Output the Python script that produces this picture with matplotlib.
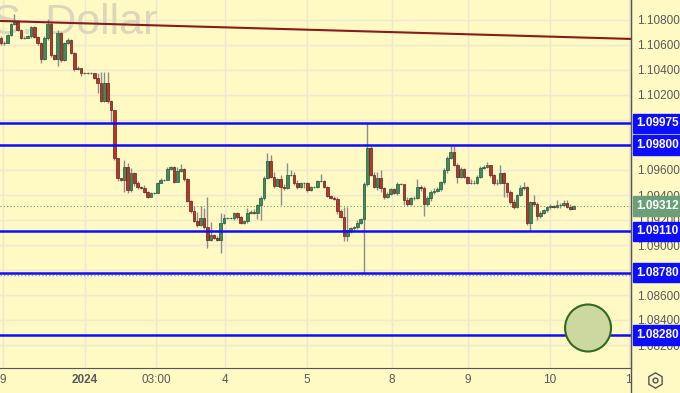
import matplotlib
matplotlib.use("Agg")
import matplotlib.pyplot as plt
import matplotlib.transforms as mtransforms
from matplotlib.patches import Ellipse
from matplotlib.lines import Line2D
import numpy as np

plt.rcParams["font.family"] = ["Liberation Sans", "DejaVu Sans"]

# candle data (hourly-ish bars), open of each bar = previous close
first_open = 1.10656
closes = [
    1.10616, 1.10616, 1.10680, 1.10768, 1.10784, 1.10720, 1.10656, 1.10656, 1.10672, 1.10744,
    1.10664, 1.10616, 1.10488, 1.10656, 1.10768, 1.10520, 1.10488, 1.10696, 1.10480, 1.10616,
    1.10640, 1.10536, 1.10408, 1.10416, 1.10376, 1.10376, 1.10376, 1.10376, 1.10336, 1.10296,
    1.10152, 1.10296, 1.10152, 1.10080, 1.09696, 1.09536, 1.09520, 1.09624, 1.09440, 1.09576,
    1.09496, 1.09464, 1.09456, 1.09424, 1.09384, 1.09416, 1.09416, 1.09496, 1.09520, 1.09520,
    1.09608, 1.09624, 1.09504, 1.09592, 1.09608, 1.09528, 1.09352, 1.09272, 1.09192, 1.09160,
    1.09216, 1.09144, 1.09040, 1.09080, 1.09056, 1.09040, 1.09176, 1.09216, 1.09216, 1.09216,
    1.09256, 1.09224, 1.09176, 1.09192, 1.09256, 1.09264, 1.09256, 1.09320, 1.09376, 1.09536,
    1.09672, 1.09544, 1.09472, 1.09528, 1.09464, 1.09456, 1.09560, 1.09560, 1.09496, 1.09464,
    1.09496, 1.09496, 1.09440, 1.09464, 1.09464, 1.09512, 1.09512, 1.09464, 1.09392, 1.09376,
    1.09368, 1.09272, 1.09224, 1.09072, 1.09120, 1.09136, 1.09144, 1.09176, 1.09208, 1.09488,
    1.09776, 1.09560, 1.09464, 1.09536, 1.09456, 1.09384, 1.09408, 1.09448, 1.09416, 1.09488,
    1.09488, 1.09360, 1.09328, 1.09376, 1.09376, 1.09464, 1.09456, 1.09328, 1.09376, 1.09424,
    1.09432, 1.09448, 1.09504, 1.09600, 1.09696, 1.09744, 1.09640, 1.09544, 1.09608, 1.09544,
    1.09496, 1.09496, 1.09496, 1.09544, 1.09616, 1.09624, 1.09640, 1.09560, 1.09496, 1.09496,
    1.09576, 1.09496, 1.09424, 1.09344, 1.09304, 1.09400, 1.09456, 1.09464, 1.09176, 1.09344,
    1.09328, 1.09232, 1.09256, 1.09280, 1.09304, 1.09312, 1.09304, 1.09320, 1.09320, 1.09336,
    1.09304, 1.09288, 1.09312,
]
highs = [
    1.10672, 1.10632, 1.10688, 1.10776, 1.10848, 1.10800, 1.10728, 1.10672, 1.10680, 1.10752,
    1.10752, 1.10672, 1.10624, 1.10672, 1.10808, 1.10784, 1.10528, 1.10720, 1.10704, 1.10624,
    1.10656, 1.10648, 1.10544, 1.10432, 1.10416, 1.10384, 1.10384, 1.10384, 1.10376, 1.10376,
    1.10384, 1.10384, 1.10384, 1.10160, 1.10080, 1.09696, 1.09536, 1.09680, 1.09656, 1.09616,
    1.09584, 1.09512, 1.09472, 1.09480, 1.09432, 1.09424, 1.09424, 1.09504, 1.09536, 1.09528,
    1.09624, 1.09632, 1.09632, 1.09624, 1.09648, 1.09616, 1.09536, 1.09360, 1.09312, 1.09264,
    1.09312, 1.09296, 1.09384, 1.09184, 1.09088, 1.09072, 1.09256, 1.09248, 1.09224, 1.09224,
    1.09264, 1.09264, 1.09232, 1.09200, 1.09296, 1.09280, 1.09288, 1.09328, 1.09392, 1.09552,
    1.09736, 1.09720, 1.09584, 1.09536, 1.09560, 1.09488, 1.09656, 1.09600, 1.09584, 1.09520,
    1.09504, 1.09504, 1.09504, 1.09472, 1.09472, 1.09520, 1.09568, 1.09520, 1.09472, 1.09400,
    1.09392, 1.09384, 1.09288, 1.09304, 1.09304, 1.09144, 1.09152, 1.09200, 1.09216, 1.09504,
    1.09976, 1.09792, 1.09584, 1.09584, 1.09600, 1.09464, 1.09424, 1.09456, 1.09456, 1.09504,
    1.09496, 1.09488, 1.09384, 1.09384, 1.09392, 1.09528, 1.09480, 1.09472, 1.09392, 1.09440,
    1.09456, 1.09464, 1.09512, 1.09616, 1.09712, 1.09792, 1.09792, 1.09656, 1.09624, 1.09616,
    1.09552, 1.09528, 1.09520, 1.09560, 1.09632, 1.09640, 1.09664, 1.09640, 1.09568, 1.09528,
    1.09640, 1.09584, 1.09504, 1.09440, 1.09368, 1.09408, 1.09480, 1.09504, 1.09472, 1.09352,
    1.09400, 1.09344, 1.09272, 1.09288, 1.09312, 1.09328, 1.09320, 1.09360, 1.09336, 1.09360,
    1.09360, 1.09328, 1.09320,
]
lows = [
    1.10600, 1.10600, 1.10616, 1.10672, 1.10760, 1.10712, 1.10648, 1.10648, 1.10656, 1.10656,
    1.10656, 1.10600, 1.10456, 1.10480, 1.10640, 1.10504, 1.10480, 1.10432, 1.10464, 1.10472,
    1.10608, 1.10528, 1.10392, 1.10400, 1.10352, 1.10368, 1.10368, 1.10368, 1.10328, 1.10216,
    1.10144, 1.10144, 1.10136, 1.09984, 1.09680, 1.09512, 1.09512, 1.09424, 1.09416, 1.09424,
    1.09472, 1.09448, 1.09448, 1.09416, 1.09376, 1.09384, 1.09408, 1.09416, 1.09496, 1.09512,
    1.09520, 1.09600, 1.09496, 1.09504, 1.09584, 1.09512, 1.09344, 1.09256, 1.09184, 1.09144,
    1.09152, 1.09128, 1.08976, 1.09032, 1.09048, 1.09032, 1.08936, 1.09168, 1.09208, 1.09208,
    1.09200, 1.09208, 1.09168, 1.09168, 1.09176, 1.09248, 1.09248, 1.09208, 1.09200, 1.09360,
    1.09528, 1.09536, 1.09456, 1.09472, 1.09320, 1.09440, 1.09448, 1.09552, 1.09480, 1.09448,
    1.09456, 1.09456, 1.09424, 1.09432, 1.09456, 1.09456, 1.09504, 1.09456, 1.09384, 1.09368,
    1.09360, 1.09248, 1.09216, 1.09032, 1.09032, 1.09096, 1.09112, 1.09128, 1.09168, 1.08776,
    1.09472, 1.09552, 1.09456, 1.09440, 1.09424, 1.09368, 1.09376, 1.09400, 1.09408, 1.09400,
    1.09480, 1.09320, 1.09312, 1.09320, 1.09360, 1.09368, 1.09432, 1.09232, 1.09312, 1.09352,
    1.09408, 1.09424, 1.09432, 1.09488, 1.09576, 1.09688, 1.09632, 1.09496, 1.09536, 1.09536,
    1.09488, 1.09488, 1.09488, 1.09488, 1.09536, 1.09608, 1.09616, 1.09544, 1.09480, 1.09480,
    1.09488, 1.09384, 1.09384, 1.09328, 1.09288, 1.09296, 1.09392, 1.09440, 1.09160, 1.09112,
    1.09312, 1.09200, 1.09216, 1.09248, 1.09264, 1.09288, 1.09296, 1.09296, 1.09296, 1.09312,
    1.09296, 1.09280, 1.09288,
]

# drawn levels
levels = [1.09975, 1.09800, 1.09110, 1.08780, 1.08280]
last_price = 1.09312
dotted_level = 1.08762
trend_idx = [-1, 190]
trend_price = [1.10793, 1.10648]
zone_center = (176.3, 1.08336)
zone_size = (13.8, 0.00376)

price_ticks = [1.082, 1.084, 1.086, 1.088, 1.090, 1.092, 1.094, 1.096,
               1.098, 1.100, 1.102, 1.104, 1.106, 1.108]
price_labels = ["1.08200", "1.08400", "1.08600", "", "1.09000", "1.09200", "1.09400",
                "1.09600", "", "", "1.10200", "1.10400", "1.10600", "1.10800"]
time_pos = [0.6, 25.2, 46.5, 67.3, 91.9, 117.4, 140.2, 164.9, 188.5]
time_labels = ["9", "2024", "03:00", "4", "5", "8", "9", "10", "1"]

BG = "#fff9c4"
BLUE = "#0d0dff"
GREEN = "#3f8c5a"
RED = "#b0392c"

fig = plt.figure(figsize=(6.8, 3.93), dpi=100)
fig.patch.set_facecolor(BG)
ax = fig.add_axes([0, 25 / 393, 631 / 680, 368 / 393])
ax.set_facecolor(BG)

opens = np.array([first_open] + closes[:-1])
c = np.array(closes)
idx = np.arange(len(c))
up = c >= opens
body_low = np.minimum(opens, c)
body_h = np.maximum(np.abs(c - opens), 0.00003)

ax.vlines(idx, lows, highs, color="#8c8c8c", lw=1, zorder=3)
ax.bar(idx[up], body_h[up], bottom=body_low[up], width=0.8,
       color=GREEN, edgecolor="#1f5a36", lw=0.5, zorder=4)
ax.bar(idx[~up], body_h[~up], bottom=body_low[~up], width=0.8,
       color=RED, edgecolor="#6d1d16", lw=0.5, zorder=4)

# trend line and levels
ax.plot(trend_idx, trend_price, color="#8b1a1a", lw=1.5, zorder=5)
ax.axhline(dotted_level, color="#9a9a9a", lw=1, ls=(0, (1, 1.5)), zorder=2)
ax.axhline(last_price, color="#5e9e6e", lw=0.8, ls=(0, (1, 2)), zorder=2)
for lvl in levels:
    ax.axhline(lvl, color=BLUE, lw=1.8, zorder=5)

ax.add_patch(Ellipse(zone_center, zone_size[0], zone_size[1],
                     facecolor="#cdd7a0", edgecolor="#2f6b1f", lw=1.5, zorder=6))

# watermark
ax.text(157 / 631, 1 - 23 / 368, "Euro / U.S. Dollar", transform=ax.transAxes,
        ha="right", va="center", fontsize=31, color="#dcd7bb", zorder=1)

ax.set_xlim(-0.3, 189.2)
ax.set_ylim(1.08016, 1.1096)
ax.set_yticks(price_ticks)
ax.set_yticklabels(price_labels)
ax.yaxis.tick_right()
ax.set_xticks(time_pos)
ax.set_xticklabels(time_labels)
ax.get_xticklabels()[1].set_fontweight("bold")
ax.tick_params(axis="y", length=0, pad=4.5, labelsize=8.5, labelcolor="#5a5a5a")
ax.tick_params(axis="x", length=0, pad=4, labelsize=8.5, labelcolor="#5a5a5a")
ax.grid(True, color="#ece8d2", lw=1)
ax.set_axisbelow(True)
for s in ["top", "left"]:
    ax.spines[s].set_visible(False)
for s in ["right", "bottom"]:
    ax.spines[s].set_color("#555555")

# price labels on right scale
trans = mtransforms.blended_transform_factory(ax.transAxes, ax.transData)
for lvl in levels:
    ax.text(1.008, lvl, f"{lvl:.5f}", transform=trans, ha="left", va="center",
            color="white", fontsize=8.5, fontweight="bold", clip_on=False, zorder=10,
            bbox=dict(boxstyle="square,pad=0.3", fc=BLUE, ec=BLUE))
ax.text(1.008, last_price, f"{last_price:.5f}", transform=trans, ha="left", va="center",
        color="white", fontsize=8.5, fontweight="bold", clip_on=False, zorder=10,
        bbox=dict(boxstyle="square,pad=0.3", fc="#6b9f7a", ec="#6b9f7a"))

fig.add_artist(Line2D([631 / 680] * 2, [0, 1], color="#555555", lw=1))
fig.add_artist(Line2D([655 / 680], [1 - 380 / 393], marker="h", ms=11,
                      mfc="none", mec="#555555", mew=1))
fig.add_artist(Line2D([655 / 680], [1 - 380 / 393], marker="o", ms=3.5,
                      mfc="none", mec="#555555", mew=1))

fig.savefig("out.png", dpi=100, facecolor=BG)
